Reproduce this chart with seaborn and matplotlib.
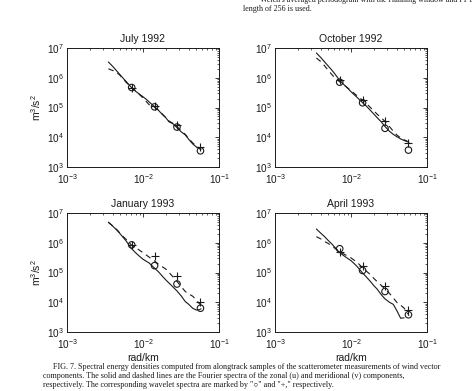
import numpy as np
import matplotlib
matplotlib.use("Agg")
import matplotlib.pyplot as plt
import seaborn as sns

# Fourier spectra frequency grid (rad/km)
freq = [0.0035, 0.004, 0.0045, 0.005, 0.0055, 0.006, 0.007, 0.008, 0.009, 0.010,
        0.011, 0.012, 0.014, 0.016, 0.018, 0.020, 0.022, 0.025, 0.028, 0.032,
        0.036, 0.040, 0.045, 0.050, 0.055, 0.058]
nan = np.nan

# zonal (u, solid) and meridional (v, dashed) Fourier spectra
jul_u = [3.4e6, 2.4e6, 1.7e6, 1.25e6, 9.5e5, 7.5e5, 4.8e5, 3.5e5, 2.8e5, 2.3e5,
         1.9e5, 1.55e5, 1.1e5, 8.0e4, 5.8e4, 4.5e4, 3.3e4, 2.8e4, 2.1e4, 1.5e4,
         1.2e4, 8.5e3, 6.0e3, 4.8e3, 4.2e3, 3.8e3]
jul_v = [2.0e6, 1.75e6, 1.5e6, 1.2e6, 9.0e5, 7.0e5, 4.8e5, 3.6e5, 2.7e5, 2.1e5,
         1.6e5, 1.25e5, 1.05e5, 8.2e4, 6.0e4, 4.6e4, 3.5e4, 2.9e4, 2.3e4, 1.6e4,
         1.25e4, 9.0e3, 6.5e3, 5.0e3, 4.4e3, 4.2e3]
oct_u = [6.8e6, 4.8e6, 3.4e6, 2.5e6, 1.9e6, 1.45e6, 8.5e5, 6.0e5, 4.5e5, 3.4e5,
         2.7e5, 2.2e5, 1.5e5, 1.1e5, 8.0e4, 6.0e4, 4.6e4, 3.3e4, 2.3e4, 1.6e4,
         1.25e4, 1.05e4, 8.8e3, 7.8e3, 7.1e3, 6.8e3]
oct_v = [4.6e6, 3.5e6, 2.5e6, 1.8e6, 1.35e6, 1.05e6, 7.5e5, 5.8e5, 4.6e5, 3.7e5,
         3.0e5, 2.5e5, 1.8e5, 1.35e5, 1.0e5, 7.8e4, 6.0e4, 4.5e4, 3.4e4, 2.3e4,
         1.6e4, 1.2e4, 9.5e3, 8.2e3, 7.4e3, nan]
jan_u = [4.9e6, 3.6e6, 2.7e6, 2.0e6, 1.5e6, 1.15e6, 6.5e5, 4.6e5, 3.5e5, 2.8e5,
         2.4e5, 2.1e5, 1.45e5, 1.05e5, 7.5e4, 5.6e4, 4.4e4, 3.2e4, 2.4e4, 1.6e4,
         1.05e4, 8.5e3, 6.3e3, 5.5e3, 5.6e3, 6.0e3]
jan_v = [4.9e6, 3.7e6, 2.8e6, 2.1e6, 1.6e6, 1.3e6, 8.5e5, 6.8e5, 5.6e5, 4.6e5,
         3.9e5, 3.3e5, 2.5e5, 1.9e5, 1.55e5, 1.3e5, 1.0e5, 7.0e4, 5.0e4, 3.3e4,
         2.3e4, 1.9e4, 1.6e4, 1.2e4, 9.0e3, 8.0e3]
apr_u = [2.9e6, 2.1e6, 1.6e6, 1.2e6, 9.5e5, 7.5e5, 4.8e5, 3.7e5, 3.0e5, 2.5e5,
         2.0e5, 1.6e5, 1.0e5, 7.0e4, 5.0e4, 3.6e4, 2.8e4, 1.8e4, 1.3e4, 1.0e4,
         8.5e3, 5.3e3, 2.9e3, 3.0e3, nan, nan]
apr_v = [1.6e6, 1.35e6, 1.1e6, 9.5e5, 8.0e5, 6.8e5, 5.0e5, 4.2e5, 3.6e5, 3.1e5,
         2.6e5, 2.2e5, 1.5e5, 1.1e5, 8.5e4, 6.3e4, 5.0e4, 3.7e4, 2.8e4, 2.0e4,
         1.4e4, 1.0e4, 8.0e3, 6.3e3, 4.5e3, 3.5e3]

# wavelet spectra (circles: u, pluses: v)
wfreq = [0.0071, 0.0142, 0.028, 0.057]
jul_wu = [4.7e5, 1.05e5, 2.2e4, 3.5e3]
jul_wv = [4.7e5, 1.1e5, 2.6e4, 4.6e3]
oct_wu = [7.1e5, 1.44e5, 2.0e4, 3.7e3]
oct_wv = [8.5e5, 1.8e5, 3.6e4, 6.6e3]
jan_wu = [8.5e5, 1.7e5, 4.1e4, 6.3e3]
jan_wv = [8.5e5, 3.5e5, 7.7e4, 1.05e4]
apr_wu = [6.3e5, 1.17e5, 2.3e4, 3.8e3]
apr_wv = [5.0e5, 1.6e5, 3.5e4, 5.3e3]

titles = ["July 1992", "October 1992", "January 1993", "April 1993"]
panels = [(jul_u, jul_v, jul_wu, jul_wv), (oct_u, oct_v, oct_wu, oct_wv),
          (jan_u, jan_v, jan_wu, jan_wv), (apr_u, apr_v, apr_wu, apr_wv)]

sns.set_style("white")
plt.rcParams['font.family'] = ['Liberation Sans', 'DejaVu Sans']
plt.rcParams['mathtext.fontset'] = 'custom'
plt.rcParams['mathtext.rm'] = 'Liberation Sans'

W, H = 474, 391
fig = plt.figure(figsize=(W / 100, H / 100), dpi=100)
ink = "#1a1a1a"

# axes boxes in pixels: left, top, right, bottom
boxes = [(67, 48, 219, 167), (275, 48, 427, 167), (67, 213, 219, 332), (275, 213, 427, 332)]

for i, (box, title, (u, v, wu, wv)) in enumerate(zip(boxes, titles, panels)):
    l, t, r, b = box
    ax = fig.add_axes([l / W, 1 - b / H, (r - l) / W, (b - t) / H])
    sns.lineplot(x=freq, y=u, ax=ax, color=ink, lw=0.8, estimator=None)
    sns.lineplot(x=freq, y=v, ax=ax, color=ink, lw=0.8, estimator=None,
                 linestyle=(0, (5, 4)))
    sns.scatterplot(x=wfreq, y=wu, ax=ax, marker='o', s=22, facecolors='none',
                    edgecolors=ink, linewidth=0.8, zorder=3)
    sns.scatterplot(x=wfreq, y=wv, ax=ax, marker='+', s=30, color=ink,
                    linewidth=0.8, zorder=3)
    ax.set_xscale('log')
    ax.set_yscale('log')
    ax.set_xlim(1e-3, 1e-1)
    ax.set_ylim(1e3, 1e7)
    ax.set_xticks([1e-3, 1e-2, 1e-1])
    ax.set_yticks([1e3, 1e4, 1e5, 1e6, 1e7])
    ax.tick_params(which='both', direction='in', top=True, right=True,
                   labelsize=7.2, colors=ink)
    ax.tick_params(axis='x', which='major', pad=3.8)
    ax.tick_params(axis='y', which='major', pad=2.5)
    ax.tick_params(which='major', length=3, width=0.6)
    ax.tick_params(which='minor', length=1.5, width=0.5)
    for s in ax.spines.values():
        s.set_linewidth(0.7)
        s.set_color(ink)
    ax.set_title(title, fontsize=7.5, color=ink, pad=4)
    if i % 2 == 0:
        ax.set_ylabel(r"m$^3$/s$^2$", fontsize=7.5, color=ink)
        ax.yaxis.set_label_coords(-0.155, 0.5)
    else:
        ax.set_ylabel("")
    if i >= 2:
        ax.set_xlabel("rad/km", fontsize=7.5, color=ink)
        ax.xaxis.set_label_coords(0.5, -0.175)
    else:
        ax.set_xlabel("")

serif = ['Liberation Serif', 'DejaVu Serif']
fig.text(260 / W, 1 - 0 / H, "Welch's averaged periodogram with the Hanning window and FFT",
         fontsize=5.8, family=serif, color=ink, va='center')
fig.text(243 / W, 1 - 9 / H, "length of 256 is used.", fontsize=5.8, family=serif,
         color=ink, va='center')

caption = [
    (53, 367, "FIG. 7. Spectral energy densities computed from alongtrack samples of the scatterometer measurements of wind vector"),
    (43, 376, "components. The solid and dashed lines are the Fourier spectra of the zonal (u) and meridional (v) components,"),
    (43, 385, "respectively. The corresponding wavelet spectra are marked by \"\u25cb\" and \"+,\" respectively."),
]
for x, y, txt in caption:
    fig.text(x / W, 1 - y / H, txt, fontsize=5.9, family=serif, color=ink, va='center')

fig.savefig("out.png", dpi=100)
